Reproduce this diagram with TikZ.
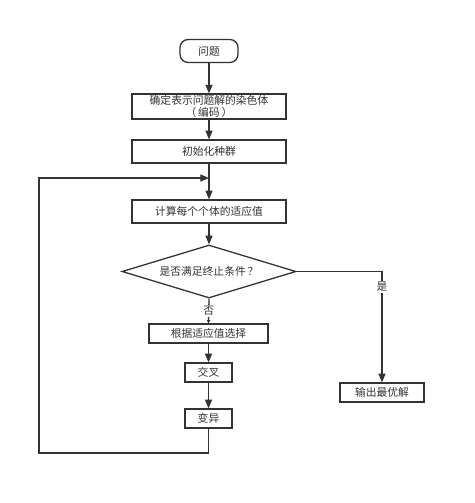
\documentclass[tikz,border=0pt]{standalone}
\usepackage{fontspec}
\newfontfamily\cjk{Noto Sans CJK SC}
\usetikzlibrary{arrows.meta, positioning, shapes.geometric, calc}
\definecolor{cline}{HTML}{333333}
\definecolor{ctext}{HTML}{333333}
\tikzset{
  every picture/.style={line width=1.1pt},
  stepbox/.style={draw=cline, fill=white, align=center, inner sep=1pt, minimum height=#1},
  stepbox/.default=0.69cm,
  startbox/.style={draw=cline, rounded corners=7pt, minimum width=1.74cm, minimum height=0.69cm},
  decision/.style={draw=cline, diamond, aspect=3.3, inner sep=0pt, minimum width=5.22cm, minimum height=1.59cm},
  arrow/.style={-{Triangle[length=2.6mm, width=2.1mm]}, draw=cline},
  tag/.style={fill=white, inner sep=1pt, text=ctext},
}
\begin{document}
\begin{tikzpicture}[x=0.03cm, y=-0.03cm, every node/.append style={font=\cjk\fontsize{9.2}{10.5}\selectfont, text=ctext}]
  \useasboundingbox (0,0) rectangle (474,503);
  % main column
  \node[startbox] (problem) at (209,51) {问题};
  \node[stepbox, minimum width=4.62cm] (encode) at (209,106.5) {确定表示问题解的染色体\\（\,编码\,）};
  \node[stepbox, minimum width=4.62cm] (init) at (209,151.5) {初始化种群};
  \node[stepbox, minimum width=4.62cm] (fitness) at (209,211.5) {计算每个个体的适应值};
  \node[decision] (stop) at (209,271.5) {是否满足终止条件\,？};
  \node[stepbox=0.57cm, minimum width=3.57cm] (select) at (208.5,333.5) {根据适应值选择};
  \node[stepbox=0.57cm, minimum width=1.41cm] (cross) at (208.5,372.5) {交叉};
  \node[stepbox=0.57cm, minimum width=1.41cm] (mutate) at (208.5,418.5) {变异};
  \node[stepbox=0.57cm, minimum width=2.52cm] (output) at (382,392.5) {输出最优解};
  % loop corners
  \coordinate (join) at (209,178);
  \coordinate (down) at (208.5,453);
  \coordinate (left) at (39,453);
  \coordinate (up) at (39,178);
  % connectors
  \draw[arrow] (problem) -- (encode);
  \draw[arrow] (encode) -- (init);
  \draw[arrow] (init) -- (fitness);
  \draw[arrow] (fitness) -- (stop);
  \draw[-{Triangle[length=1mm, width=1mm]}, draw=cline] (stop.south) -- (select.north) node[tag, pos=0.5] {否};
  \draw[arrow] (select) -- (cross);
  \draw[arrow] (cross) -- (mutate);
  \draw[arrow] (stop.east) -| (output.north) node[tag, pos=0.57] {是};
  \draw[arrow] (mutate.south) -- (down) -- (left) -- (up) -- (join);
\end{tikzpicture}
\end{document}
